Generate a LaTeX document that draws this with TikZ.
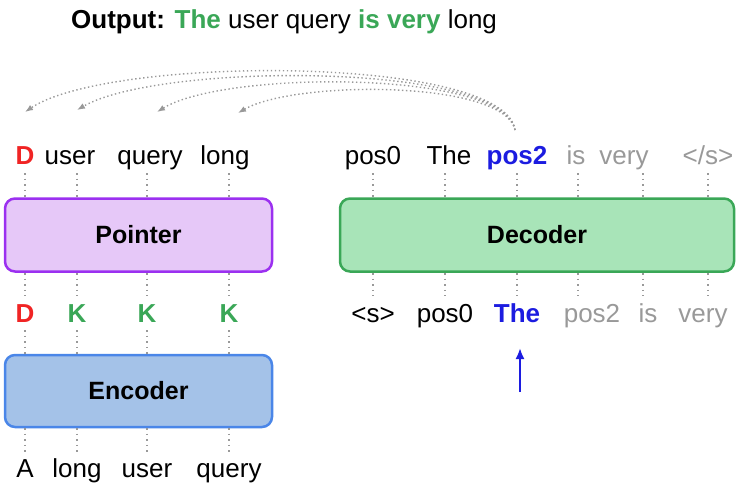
\documentclass[tikz,border=0pt]{standalone}
\usepackage{fontspec}
\setmainfont{Liberation Sans}
\usetikzlibrary{arrows.meta,positioning}
\definecolor{grn}{HTML}{3AA757}
\definecolor{gry}{HTML}{999999}
\definecolor{rd}{HTML}{F02424}
\definecolor{bl}{HTML}{1C1CE0}
\tikzset{
  tok/.style={font=\fontsize{26}{30}\selectfont, inner sep=1pt, anchor=base},
  blk/.style={draw, line width=2.5pt, rounded corners=10pt, font=\fontsize{25}{30}\selectfont\bfseries},
  dots/.style={gry, line width=1.6pt, dash pattern=on 1.6pt off 4pt},
  arc/.style={gry, line width=1.4pt, dash pattern=on 1.4pt off 2.6pt, -{Latex[length=8pt,width=6pt]}}
}
\begin{document}
\begin{tikzpicture}[x=1pt,y=-1pt]
  \useasboundingbox (0,0) rectangle (742,485);
  % title
  \node[tok, anchor=base west] (out) at (70,28) {\textbf{Output:} \textbf{\color{grn}The} user query \textbf{\color{grn}is very} long};
  % boxes
  \node[blk, draw={rgb,255:red,155;green,48;blue,240}, fill={rgb,255:red,230;green,200;blue,248}, minimum width=267pt, minimum height=73pt] (ptr) at (138.5,235) {Pointer};
  \node[blk, draw={rgb,255:red,74;green,134;blue,232}, fill={rgb,255:red,164;green,194;blue,232}, minimum width=267pt, minimum height=72pt] (enc) at (138.5,391) {Encoder};
  \node[blk, draw=grn, fill={rgb,255:red,168;green,228;blue,184}, minimum width=394pt, minimum height=73pt] (dec) at (537,235) {Decoder};
  % dotted columns
  \foreach \x in {25,77,147,229} {
    \draw[dots] (\x,173) -- (\x,198);
    \draw[dots] (\x,273) -- (\x,296);
    \draw[dots] (\x,330) -- (\x,355);
    \draw[dots] (\x,428) -- (\x,452);
  }
  \foreach \x in {373,445,517,578,643,708} {
    \draw[dots] (\x,173) -- (\x,198);
    \draw[dots] (\x,273) -- (\x,296);
  }
  % encoder side tokens
  \node[tok] (a) at (25,477) {A};
  \node[tok] (b) at (77,477) {long};
  \node[tok] (c) at (147,477) {user};
  \node[tok] (d) at (229,477) {query};
  \node[tok, rd] (t0) at (25,322) {\bfseries D};
  \node[tok, grn] (t1) at (77,322) {\bfseries K};
  \node[tok, grn] (t2) at (147,322) {\bfseries K};
  \node[tok, grn] (t3) at (229,322) {\bfseries K};
  \node[tok, rd] (p0) at (25,164) {\bfseries D};
  \node[tok] (p1) at (70,164) {user};
  \node[tok] (p2) at (150,164) {query};
  \node[tok] (p3) at (225,164) {long};
  % decoder tokens
  \node[tok] (i0) at (373,322) {<s>};
  \node[tok] (i1) at (445,322) {pos0};
  \node[tok, bl] (i2) at (517,322) {\bfseries The};
  \node[tok, gry] (i3) at (592,322) {pos2};
  \node[tok, gry] (i4) at (648,322) {is};
  \node[tok, gry] (i5) at (703,322) {very};
  \node[tok] (o0) at (373,164) {pos0};
  \node[tok] (o1) at (449,164) {The};
  \node[tok, bl] (o2) at (517,164) {\bfseries pos2};
  \node[tok, gry] (o3) at (576,164) {is};
  \node[tok, gry] (o4) at (624,164) {very};
  \node[tok, gry] (o5) at (708,164) {</s>};
  % step marker
  \coordinate (cur) at (520,392);
  \draw[bl, line width=2pt, -{Latex[length=11pt,width=9pt]}] (cur) -- (520,348);
  % copy arcs
  \coordinate (src) at (515,130);
  \draw[arc] (src) .. controls (505,55) and (110,55) .. (25,112);
  \draw[arc] (src) .. controls (505,62) and (160,62) .. (77,110);
  \draw[arc] (src) .. controls (505,70) and (225,70) .. (157,112);
  \draw[arc] (src) .. controls (505,80) and (295,80) .. (238,113);
\end{tikzpicture}
\end{document}
